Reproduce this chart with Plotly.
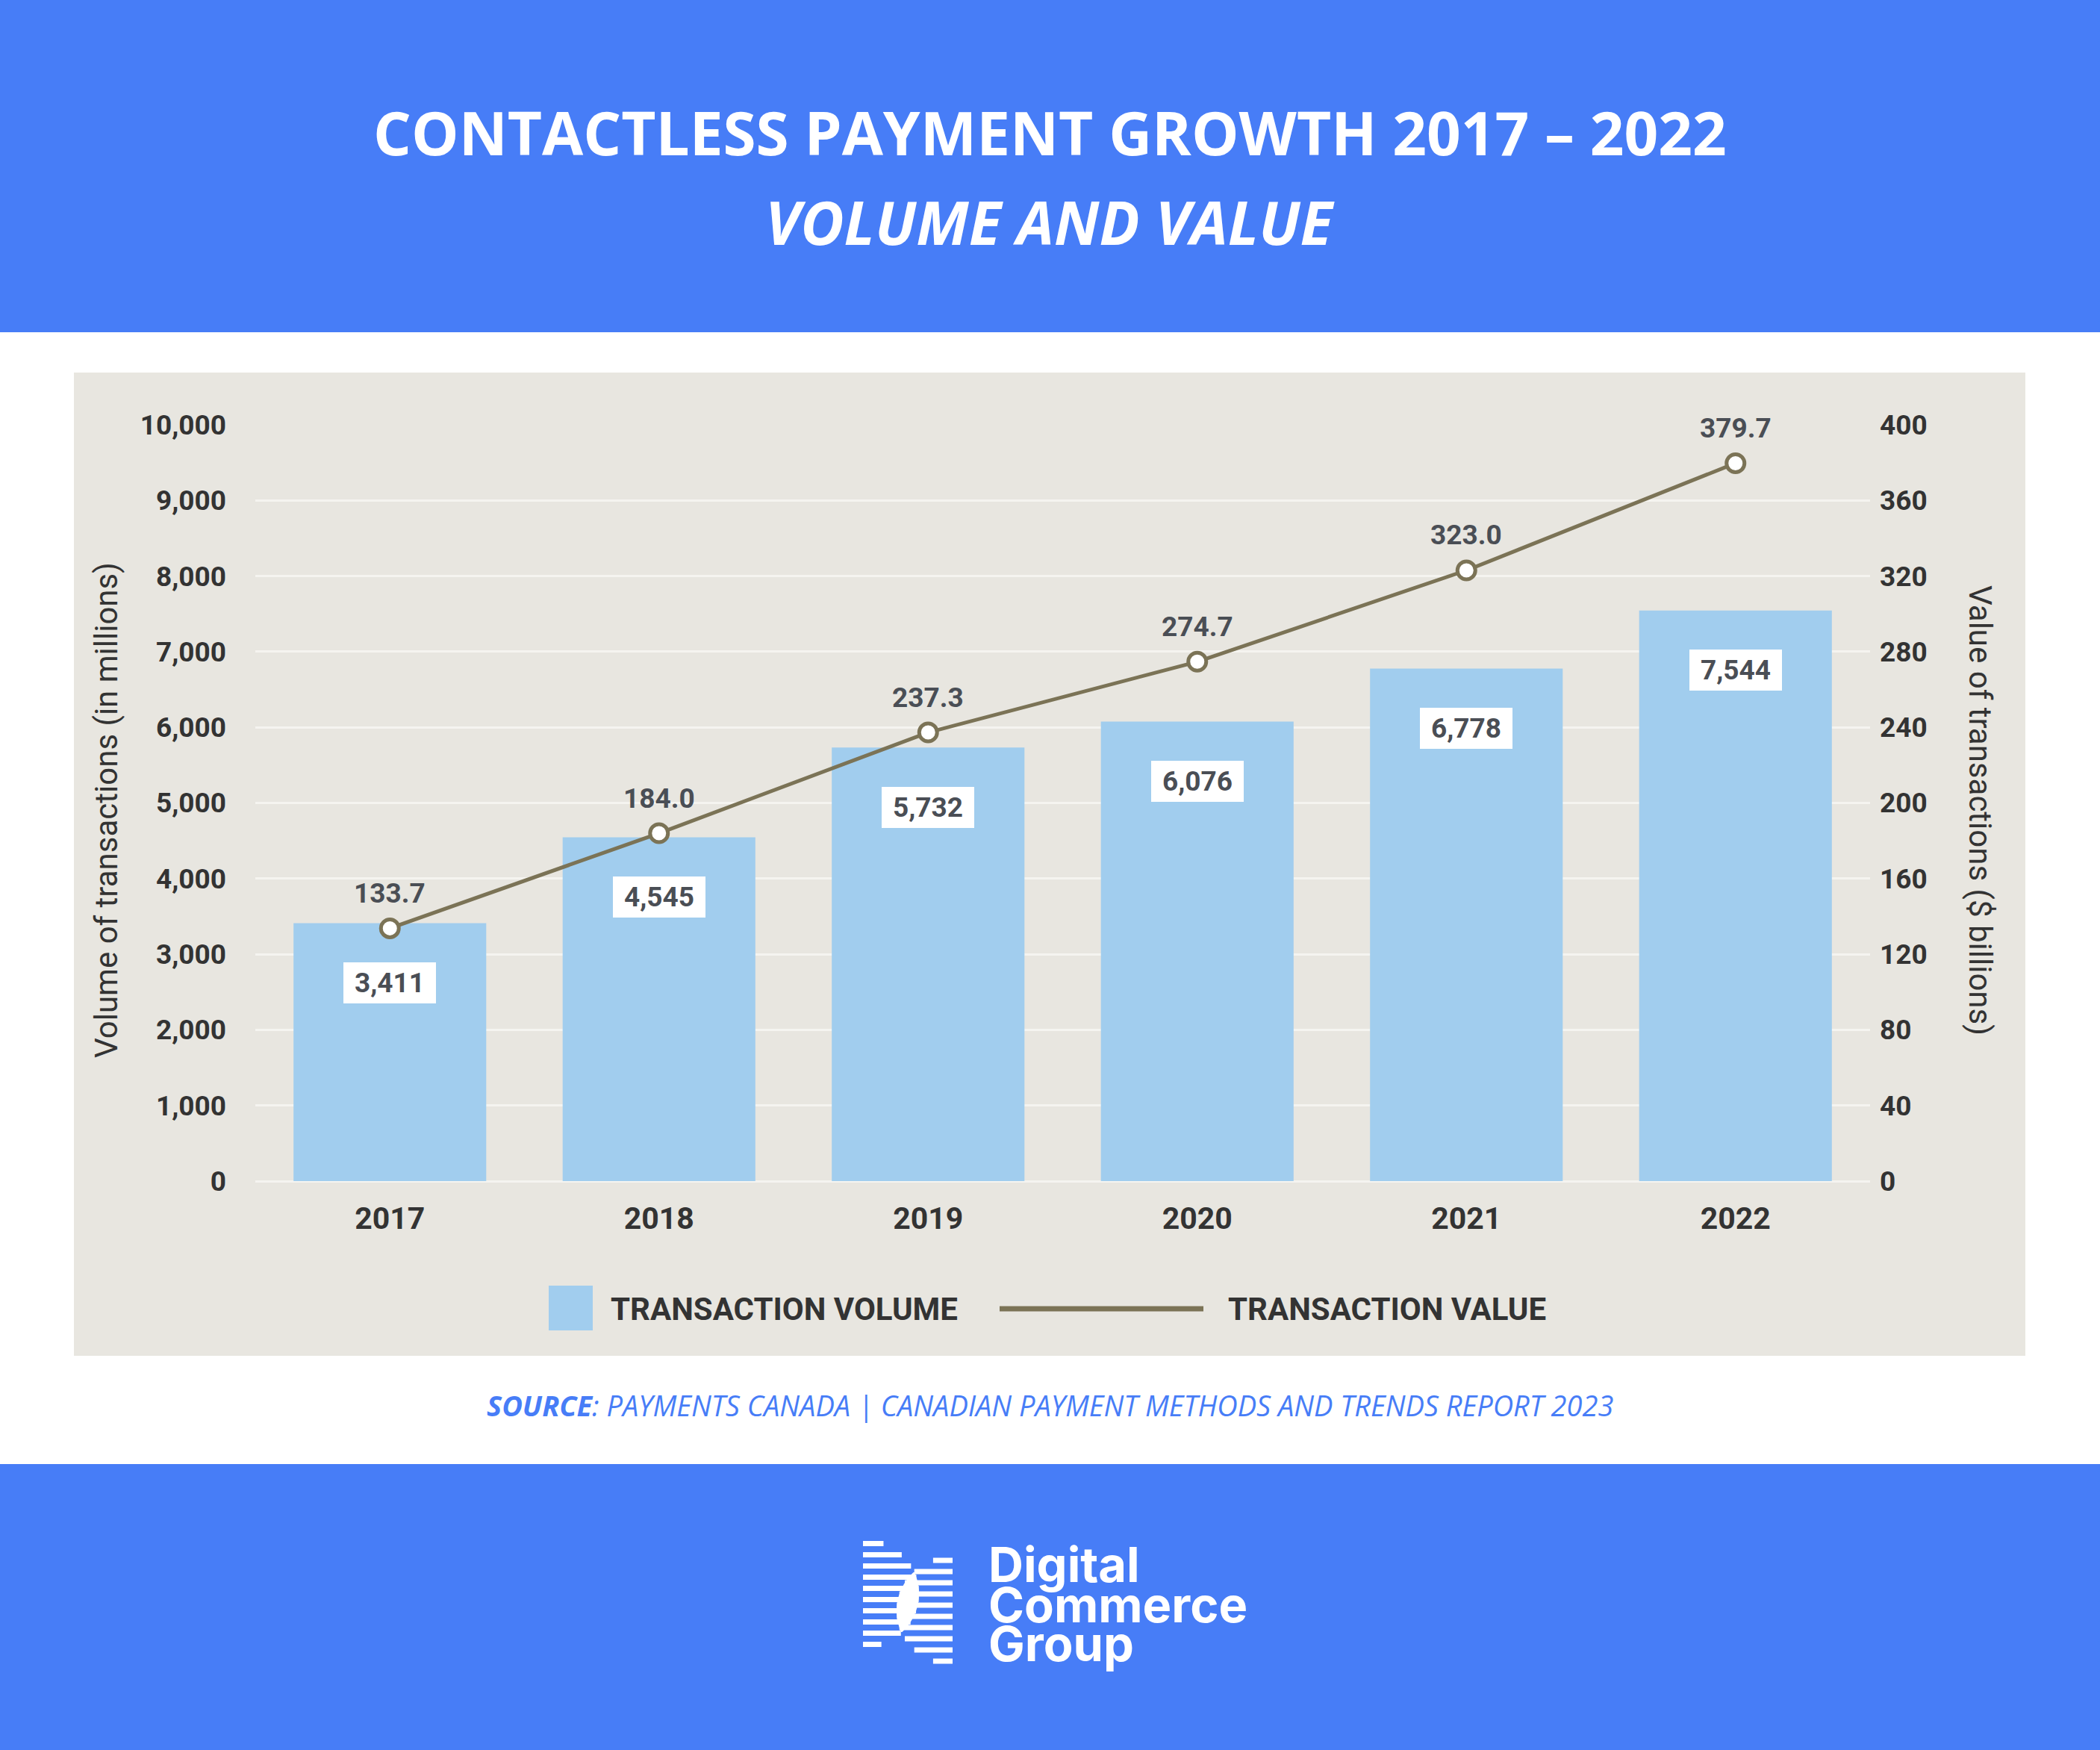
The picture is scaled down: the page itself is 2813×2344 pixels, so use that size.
import math
import plotly.graph_objects as go

# ---------------- data ----------------
years = ["2017", "2018", "2019", "2020", "2021", "2022"]
volume = [3411, 4545, 5732, 6076, 6778, 7544]          # millions of transactions
value = [133.7, 184.0, 237.3, 274.7, 323.0, 379.7]     # $ billions
volume_labels = [f"{v:,}" for v in volume]
value_labels = [f"{v:.1f}" for v in value]

title = "CONTACTLESS PAYMENT GROWTH 2017 – 2022"
subtitle = "VOLUME AND VALUE"
y_title = "Volume of transactions (in millions)"
y2_title = "Value of transactions ($ billions)"
legend_names = ["TRANSACTION VOLUME", "TRANSACTION VALUE"]
source_text = ("<b>SOURCE</b>: PAYMENTS CANADA | CANADIAN PAYMENT METHODS "
               "AND TRENDS REPORT 2023")

# ---------------- style ----------------
W, H = 2813, 2344
BLUE = "#477DF7"
PANEL = "#E8E6E0"
BAR = "#A1CDEE"
LINE = "#7B7356"
GRID = "#F5F4F0"
DARK = "#333333"
LABEL = "#4A4E55"
FONT = "Roboto, sans-serif"


def px(x):
    return x / W


def py(y):
    return 1 - y / H


fig = go.Figure()

fig.add_trace(go.Bar(
    x=years, y=volume, name=legend_names[0], marker=dict(color=BAR, line=dict(width=0)),
    width=0.716, yaxis="y", showlegend=False,
))
fig.add_trace(go.Scatter(
    x=years, y=value, name=legend_names[1], yaxis="y2", mode="lines+markers",
    line=dict(color=LINE, width=5),
    marker=dict(size=24, color="white", line=dict(color=LINE, width=5)),
    showlegend=False,
))

annotations = []
# bar value boxes (x = category index)
for i, (v, lab) in enumerate(zip(volume, volume_labels)):
    annotations.append(dict(
        x=i, y=v, xref="x", yref="y", text=lab, showarrow=False,
        xanchor="center", yanchor="middle",
        yshift=-80, bgcolor="white", borderpad=4, borderwidth=0,
        width=116, height=47,
        font=dict(family=FONT, size=37, color=LABEL, weight=700),
    ))
# line value labels
for i, (v, lab) in enumerate(zip(value, value_labels)):
    annotations.append(dict(
        x=i, y=v, xref="x", yref="y2", text=lab, showarrow=False,
        xanchor="center", yanchor="middle",
        yshift=47, font=dict(family=FONT, size=37, color=LABEL, weight=700),
    ))


def paper_text(x, y, text, font, xanchor="center", textangle=0):
    return dict(x=px(x), y=py(y), xref="paper", yref="paper", text=text, showarrow=False,
                xanchor=xanchor, yanchor="middle", textangle=textangle, font=font)


# titles
annotations.append(paper_text(1406.5, 176, title,
                              dict(family="Open Sans, sans-serif", size=80, color="white", weight=700)))
annotations.append(paper_text(1406.5, 296, f"<i>{subtitle}</i>",
                              dict(family="Open Sans, sans-serif", size=80, color="white", weight=700)))
# axis titles
annotations.append(paper_text(143, 1085, y_title, dict(family=FONT, size=42, color=DARK), textangle=-90))
annotations.append(paper_text(2652, 1085, y2_title, dict(family=FONT, size=42, color=DARK), textangle=90))
# legend texts
annotations.append(paper_text(816, 1753, legend_names[0],
                              dict(family=FONT, size=42, color=DARK, weight=700), xanchor="left"))
annotations.append(paper_text(1643, 1753, legend_names[1],
                              dict(family=FONT, size=42, color=DARK, weight=700), xanchor="left"))
# source
annotations.append(paper_text(1406.5, 1882, f"<i>{source_text}</i>",
                              dict(family="Open Sans, sans-serif", size=38, color=BLUE)))
# logo text
for txt, yc in [("Digital", 2095), ("Commerce", 2149), ("Group", 2201)]:
    annotations.append(paper_text(1322, yc, txt,
                                  dict(family="Inter, sans-serif", size=65, color="white", weight=700),
                                  xanchor="left"))

shapes = [
    # top band
    dict(type="rect", xref="paper", yref="paper", x0=0, x1=1, y0=py(445), y1=1,
         fillcolor=BLUE, line=dict(width=0), layer="below"),
    # chart panel
    dict(type="rect", xref="paper", yref="paper", x0=px(99), x1=px(2713), y0=py(1816), y1=py(499),
         fillcolor=PANEL, line=dict(width=0), layer="below"),
    # bottom band
    dict(type="rect", xref="paper", yref="paper", x0=0, x1=1, y0=0, y1=py(1961),
         fillcolor=BLUE, line=dict(width=0), layer="below"),
    # legend swatches
    dict(type="rect", xref="paper", yref="paper", x0=px(735), x1=px(794), y0=py(1782), y1=py(1722),
         fillcolor=BAR, line=dict(width=0)),
    dict(type="line", xref="paper", yref="paper", x0=px(1339), x1=px(1612), y0=py(1753), y1=py(1753),
         line=dict(color=LINE, width=7)),
]

# logo mark: two interleaved striped half-ellipses
rx, ry = 75, 72
lcx, lcy = 1156, 2134.5
rcx, rcy = 1276, 2157.5
for i in range(10):
    yc = 2067.5 + 15 * i
    w = rx * math.sqrt(max(0.0, 1 - ((yc - lcy) / ry) ** 2))
    shapes.append(dict(type="rect", xref="paper", yref="paper", x0=px(lcx), x1=px(lcx + w),
                       y0=py(yc + 3.5), y1=py(yc - 3.5), fillcolor="white", line=dict(width=0)))
    yc2 = 2090 + 15 * i
    w2 = rx * math.sqrt(max(0.0, 1 - ((yc2 - rcy) / ry) ** 2))
    shapes.append(dict(type="rect", xref="paper", yref="paper", x0=px(rcx - w2), x1=px(rcx),
                       y0=py(yc2 + 3.5), y1=py(yc2 - 3.5), fillcolor="white", line=dict(width=0)))
left_pts, right_pts = [], []
yy = 2060.0
while yy <= 2232:
    a = 1 - ((yy - rcy) / ry) ** 2
    b = 1 - ((yy - lcy) / ry) ** 2
    if a > 0 and b > 0:
        xl = rcx - rx * math.sqrt(a)
        xr = lcx + rx * math.sqrt(b)
        if xl < xr:
            left_pts.append((xl, yy))
            right_pts.append((xr, yy))
    yy += 2
if left_pts:
    pts = left_pts + right_pts[::-1]
    path = "M " + " L ".join(f"{px(x):.5f},{py(y):.5f}" for x, y in pts) + " Z"
    shapes.append(dict(type="path", xref="paper", yref="paper", path=path,
                       fillcolor="white", line=dict(width=0)))

tickfont = dict(family=FONT, size=37, color=DARK, weight=700)

fig.update_layout(
    width=W, height=H, autosize=False,
    margin=dict(l=0, r=0, t=0, b=0, autoexpand=False),
    paper_bgcolor="white", plot_bgcolor=PANEL,
    xaxis=dict(domain=[px(342), px(2505)], type="category", range=[-0.5, 5.5],
               automargin=False, showgrid=False, zeroline=False,
               showline=False, ticks="", ticklabelstandoff=22,
               tickfont=dict(family=FONT, size=41, color=DARK, weight=700)),
    yaxis=dict(domain=[py(1582), py(569)], range=[0, 10000], dtick=1000, tickformat=",",
               automargin=False, showgrid=True, gridcolor=GRID, gridwidth=3,
               zeroline=True, zerolinecolor=GRID, zerolinewidth=3,
               showline=False, ticks="", ticklabelstandoff=38, tickfont=tickfont),
    yaxis2=dict(domain=[py(1582), py(569)], range=[0, 400], dtick=40, overlaying="y",
                automargin=False, side="right", showgrid=False, zeroline=False, showline=False,
                ticks="", ticklabelstandoff=12, tickfont=tickfont),
    annotations=annotations,
    shapes=shapes,
    showlegend=False,
)

fig.write_html("out.html")
